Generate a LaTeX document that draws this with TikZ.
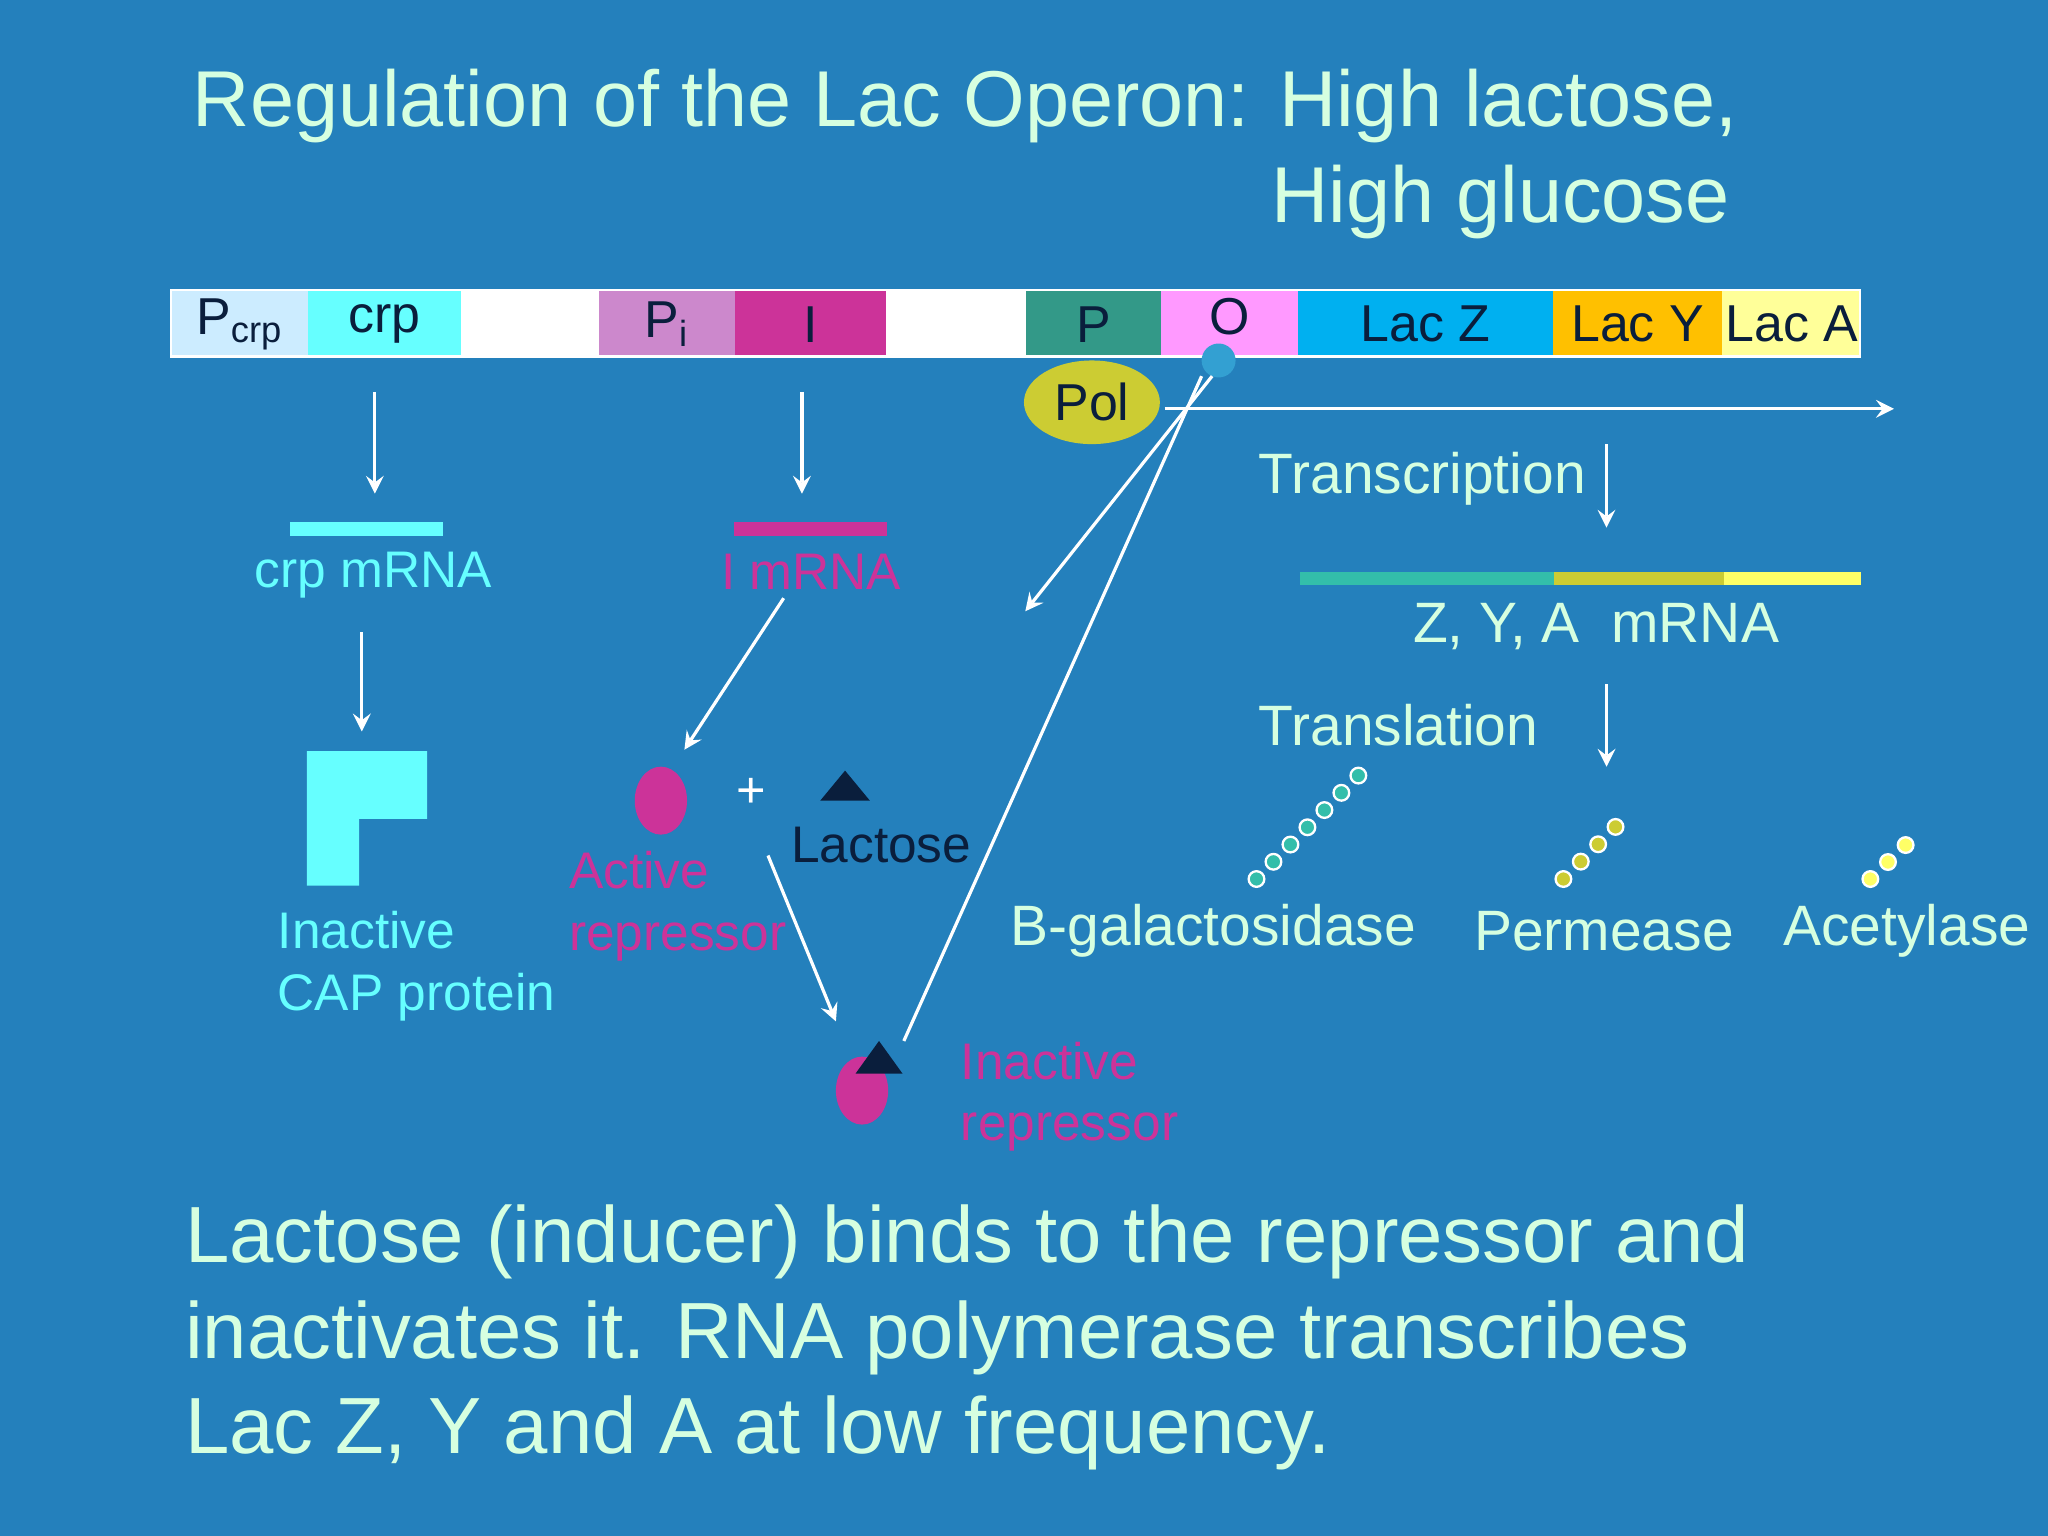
\documentclass[tikz,border=0pt]{standalone}
\usepackage{fontspec}
\setmainfont{Liberation Sans}
\usetikzlibrary{positioning, arrows, shapes.geometric}
\definecolor{bg}{RGB}{36,128,188}
\definecolor{pale}{RGB}{214,255,224}
\definecolor{cyn}{RGB}{102,255,255}
\definecolor{mag}{RGB}{204,51,153}
\definecolor{navy}{RGB}{10,30,60}
\definecolor{olive}{RGB}{204,204,51}
\definecolor{tealb}{RGB}{51,190,170}
\definecolor{yel}{RGB}{255,255,102}
\definecolor{pcrpc}{RGB}{204,236,255}
\definecolor{pic}{RGB}{204,136,204}
\definecolor{promc}{RGB}{51,153,136}
\definecolor{operc}{RGB}{255,153,255}
\definecolor{lzc}{RGB}{0,176,240}
\definecolor{lyc}{RGB}{255,192,0}
\definecolor{lac}{RGB}{255,255,153}
\definecolor{bumpc}{RGB}{51,160,210}
\begin{document}
\begin{tikzpicture}[
    x=0.01cm, y=-0.01cm,
    gene/.style={rectangle, draw=none, minimum height=0.51cm, inner sep=0pt, anchor=north west, text=navy, font=\fontsize{11.3}{14}\selectfont},
    lbl/.style={font=\fontsize{11.2}{13.4}\selectfont, align=left, inner sep=0pt},
    big/.style={font=\fontsize{12.4}{15}\selectfont},
    arrow/.style={->, >=stealth, white, line width=0.7pt},
    bead/.style={circle, draw=white, line width=0.5pt, inner sep=0pt, minimum size=0.12cm}
]
    % Background
    \fill[bg] (0,0) rectangle (1568,1176);
    \useasboundingbox (0,0) rectangle (1568,1176);

    % Title
    \node[pale, anchor=base west, inner sep=0pt, font=\fontsize{17.25}{22}\selectfont] (title1) at (147,97) {Regulation of the Lac Operon: High lactose,};
    \node[pale, anchor=base east, inner sep=0pt, font=\fontsize{17.25}{22}\selectfont] (title2) at (1325,170) {High glucose};

    % Gene bar
    \node[gene, fill=pcrpc, minimum width=1.04cm] (pcrp) at (131,222) {P\textsubscript{crp}};
    \node[gene, fill=cyn, minimum width=1.17cm] (crp) at (235,222) {crp};
    \node[gene, fill=white, minimum width=1.06cm] (gap1) at (352,222) {};
    \node[gene, fill=pic, minimum width=1.04cm] (pi) at (458,222) {P\textsubscript{i}};
    \node[gene, fill=mag, minimum width=1.16cm] (igene) at (562,222) {\raisebox{-1ex}{I}};
    \node[gene, fill=white, minimum width=1.07cm] (gap2) at (678,222) {};
    \node[gene, fill=promc, minimum width=1.03cm] (prom) at (785,222) {\raisebox{-0.6ex}{P}};
    \node[gene, fill=operc, minimum width=1.05cm] (oper) at (888,222) {\raisebox{0.6ex}{O}};
    \node[gene, fill=lzc, minimum width=1.95cm] (lacz) at (993,222) {\raisebox{-0.5ex}{Lac Z}};
    \node[gene, fill=lyc, minimum width=1.30cm] (lacy) at (1188,222) {\raisebox{-0.5ex}{Lac Y}};
    \node[gene, fill=lac, minimum width=1.06cm] (laca) at (1318,222) {\raisebox{-0.5ex}{Lac A}};
    \draw[white, line width=0.6pt] (131,222) rectangle (1424,273);

    % Polymerase
    \fill[bumpc] (933,276) circle (13);
    \node[ellipse, fill=olive, minimum width=1.04cm, minimum height=0.64cm, inner sep=0pt, text=navy, font=\fontsize{11.3}{14}\selectfont] (pol) at (836,308) {Pol};
    \coordinate (tend) at (1450,313);
    \draw[arrow] (pol.east) ++(3,5) -- (tend);

    % mRNAs
    \node[lbl, text=cyn] (crpm) at (286,440) {crp mRNA};
    \node[lbl, text=mag] (im) at (621,438) {I mRNA};
    \draw[cyn, line width=3pt] (222,405) -- (339,405);
    \draw[mag, line width=3pt] (562,405) -- (679,405);
    \draw[arrow] (287,300) -- (287,378);
    \draw[arrow] (614,300) -- (614,378);

    % CAP protein
    \fill[cyn] (235,575) -- (327,575) -- (327,627) -- (275,627) -- (275,678) -- (235,678) -- cycle;
    \node[lbl, text=cyn, anchor=north west] (cap) at (212,697) {Inactive\\CAP protein};
    \draw[arrow] (277,484) -- (277,560);

    % Repressor
    \node[ellipse, fill=mag, minimum width=0.40cm, minimum height=0.52cm, inner sep=0pt] (arep) at (506,613) {};
    \node[lbl, text=mag, anchor=north west] (areplbl) at (435,651) {Active\\repressor};
    \node[white, font=\fontsize{11}{14}\selectfont] (plus) at (575,607) {+};
    \fill[navy] (628,613) -- (647,590) -- (666,613) -- cycle;
    \node[lbl, text=navy, anchor=base west] (lacl) at (605,660) {Lactose};
    \draw[arrow] (600,458) -- (524,574);
    \node[ellipse, fill=mag, minimum width=0.40cm, minimum height=0.52cm, inner sep=0pt] (irep) at (660,835) {};
    \fill[navy] (655,822) -- (673,797) -- (691,822) -- cycle;
    \node[lbl, text=mag, anchor=north west] (ireplbl) at (735,797) {Inactive\\repressor};
    \draw[arrow] (588,655) -- (640,782);
    \draw[white, line width=0.7pt] (692,797) -- (920,288);
    \draw[arrow] (928,288) -- (785,468);

    % Transcription and translation
    \node[lbl, big, text=pale, anchor=base west] (trsc) at (963,378) {Transcription};
    \draw[arrow] (1230,340) -- (1230,404);
    \draw[tealb, line width=3pt] (995,443) -- (1190,443);
    \draw[olive, line width=3pt] (1190,443) -- (1320,443);
    \draw[yel, line width=3pt] (1320,443) -- (1425,443);
    \node[lbl, big, text=pale] (zya) at (1222,480) {Z, Y, A\ \ mRNA};
    \node[lbl, big, text=pale, anchor=base west] (trsl) at (963,571) {Translation};
    \draw[arrow] (1230,524) -- (1230,587);

    % Proteins
    \foreach \i in {0,...,6}
        \node[bead, fill=tealb] at ({962+13*\i},{673-13.2*\i}) {};
    \foreach \i in {0,...,3}
        \node[bead, fill=olive] at ({1197+13.3*\i},{673-13.3*\i}) {};
    \foreach \i in {0,...,2}
        \node[bead, fill=yel] at ({1432+13.5*\i},{673-13*\i}) {};
    \node[lbl, big, text=pale] (bgal) at (929,713) {B-galactosidase};
    \node[lbl, big, text=pale] (perm) at (1228,713) {Permease};
    \node[lbl, big, text=pale] (acet) at (1460,713) {Acetylase};

    % Caption
    \node[pale, anchor=north west, align=left, inner sep=0pt, font=\fontsize{17.35}{20.8}\selectfont] (caption) at (141,922) {Lactose (inducer) binds to the repressor and\\inactivates it. RNA polymerase transcribes\\Lac Z, Y and A at low frequency.};
\end{tikzpicture}
\end{document}
